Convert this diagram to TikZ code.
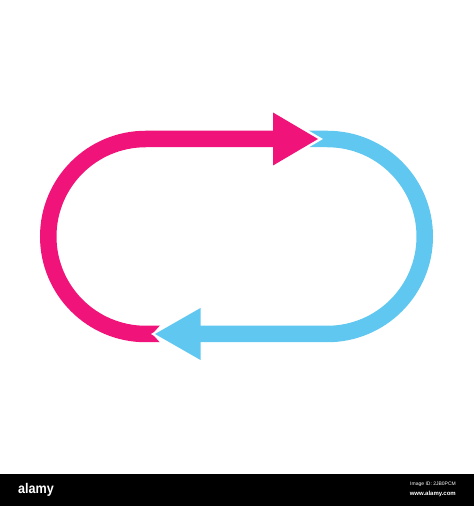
\documentclass[tikz,border=0pt]{standalone}
\usepackage{fontspec}
\setmainfont{Liberation Sans}
\usepackage{tikz}
\definecolor{hotpink}{RGB}{240,20,122}
\definecolor{skyblue}{RGB}{96,200,240}

\begin{document}
\begin{tikzpicture}[x=1pt,y=1pt,
  band/.style={line width=16.5pt},
  gap/.style={white,line width=5pt,line join=miter}]
\useasboundingbox (0,0) rectangle (474,506);
\fill [white] (0,0) rectangle (474,506);
% the two halves of the loop
\draw [skyblue,band] (300,367) -- (327.25,367) arc [start angle=90,end angle=-90,radius=97.5] -- (195,172);
\draw [hotpink,band] (175,172) -- (145.75,172) arc [start angle=270,end angle=90,radius=97.5] -- (275,367);
% notch at the tail of the pink half
\fill [white] (161,181.5) -- (152.5,172) -- (161,162.5) -- (185,162.5) -- (185,181.5) -- cycle;
% arrow heads
\draw [gap] (273,393.5) -- (318,367) -- (273,340.5);
\fill [hotpink] (273,393.5) -- (318,367) -- (273,340.5) -- cycle;
\draw [gap,line width=4pt] (200.5,198) -- (155,172) -- (200.5,146);
\fill [skyblue] (200.5,198) -- (155,172) -- (200.5,146) -- cycle;
% stock bar
\fill [black] (0,0) rectangle (474,32);
\node [white,xscale=0.9,font=\bfseries\fontsize{14}{14}\selectfont] (logo) at (36,16) {alamy};
\node [white,anchor=east,inner sep=0pt,font=\fontsize{5}{5}\selectfont] (imgid) at (456,21.5) {Image ID: 2JB0PCM};
\node [white,anchor=east,inner sep=0pt,font=\bfseries\fontsize{6}{6}\selectfont] (site) at (456,12.5) {www.alamy.com};
\end{tikzpicture}
\end{document}
